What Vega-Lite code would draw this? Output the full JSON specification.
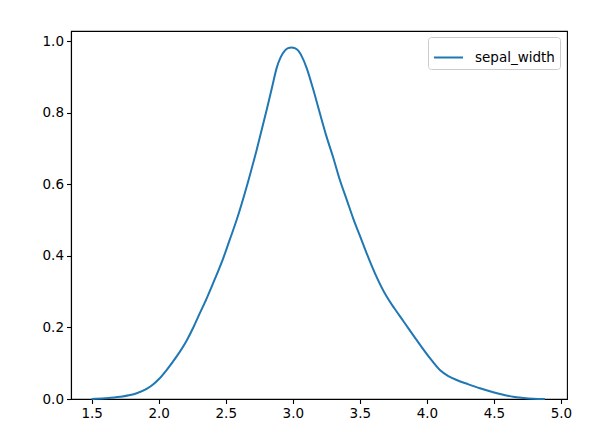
{
  "$schema": "https://vega.github.io/schema/vega-lite/v6.json",
  "width": 496,
  "height": 368,
  "autosize": "none",
  "padding": {"left": 71, "top": 31, "right": 37, "bottom": 42},
  "background": "white",
  "config": {
    "font": "DejaVu Sans",
    "view": {"stroke": "black", "strokeWidth": 1.1},
    "axis": {
      "grid": false,
      "domain": true,
      "domainColor": "black",
      "domainWidth": 1.1,
      "tickColor": "black",
      "tickSize": 4.5,
      "tickWidth": 1.1,
      "labelColor": "black",
      "labelFont": "DejaVu Sans",
      "labelFontSize": 13.5,
      "labelPadding": 3,
      "title": null
    }
  },
  "data": {
    "values": [
      {"x": 1.5, "y": 0.0, "series": "sepal_width"},
      {"x": 1.6, "y": 0.002, "series": "sepal_width"},
      {"x": 1.711, "y": 0.006, "series": "sepal_width"},
      {"x": 1.836, "y": 0.016, "series": "sepal_width"},
      {"x": 1.91, "y": 0.028, "series": "sepal_width"},
      {"x": 1.96, "y": 0.041, "series": "sepal_width"},
      {"x": 2.0, "y": 0.055, "series": "sepal_width"},
      {"x": 2.059, "y": 0.081, "series": "sepal_width"},
      {"x": 2.134, "y": 0.119, "series": "sepal_width"},
      {"x": 2.208, "y": 0.163, "series": "sepal_width"},
      {"x": 2.26, "y": 0.201, "series": "sepal_width"},
      {"x": 2.295, "y": 0.23, "series": "sepal_width"},
      {"x": 2.358, "y": 0.281, "series": "sepal_width"},
      {"x": 2.42, "y": 0.336, "series": "sepal_width"},
      {"x": 2.481, "y": 0.393, "series": "sepal_width"},
      {"x": 2.53, "y": 0.445, "series": "sepal_width"},
      {"x": 2.581, "y": 0.5, "series": "sepal_width"},
      {"x": 2.665, "y": 0.605, "series": "sepal_width"},
      {"x": 2.73, "y": 0.695, "series": "sepal_width"},
      {"x": 2.805, "y": 0.807, "series": "sepal_width"},
      {"x": 2.845, "y": 0.87, "series": "sepal_width"},
      {"x": 2.88, "y": 0.925, "series": "sepal_width"},
      {"x": 2.91, "y": 0.955, "series": "sepal_width"},
      {"x": 2.941, "y": 0.973, "series": "sepal_width"},
      {"x": 2.965, "y": 0.98, "series": "sepal_width"},
      {"x": 2.991, "y": 0.982, "series": "sepal_width"},
      {"x": 3.015, "y": 0.98, "series": "sepal_width"},
      {"x": 3.041, "y": 0.973, "series": "sepal_width"},
      {"x": 3.07, "y": 0.955, "series": "sepal_width"},
      {"x": 3.103, "y": 0.925, "series": "sepal_width"},
      {"x": 3.15, "y": 0.868, "series": "sepal_width"},
      {"x": 3.203, "y": 0.797, "series": "sepal_width"},
      {"x": 3.25, "y": 0.735, "series": "sepal_width"},
      {"x": 3.302, "y": 0.674, "series": "sepal_width"},
      {"x": 3.35, "y": 0.613, "series": "sepal_width"},
      {"x": 3.402, "y": 0.557, "series": "sepal_width"},
      {"x": 3.451, "y": 0.504, "series": "sepal_width"},
      {"x": 3.513, "y": 0.444, "series": "sepal_width"},
      {"x": 3.551, "y": 0.407, "series": "sepal_width"},
      {"x": 3.613, "y": 0.351, "series": "sepal_width"},
      {"x": 3.7, "y": 0.286, "series": "sepal_width"},
      {"x": 3.76, "y": 0.252, "series": "sepal_width"},
      {"x": 3.824, "y": 0.218, "series": "sepal_width"},
      {"x": 3.923, "y": 0.165, "series": "sepal_width"},
      {"x": 4.023, "y": 0.114, "series": "sepal_width"},
      {"x": 4.097, "y": 0.081, "series": "sepal_width"},
      {"x": 4.16, "y": 0.064, "series": "sepal_width"},
      {"x": 4.222, "y": 0.053, "series": "sepal_width"},
      {"x": 4.31, "y": 0.041, "series": "sepal_width"},
      {"x": 4.396, "y": 0.03, "series": "sepal_width"},
      {"x": 4.495, "y": 0.019, "series": "sepal_width"},
      {"x": 4.57, "y": 0.012, "series": "sepal_width"},
      {"x": 4.644, "y": 0.006, "series": "sepal_width"},
      {"x": 4.72, "y": 0.003, "series": "sepal_width"},
      {"x": 4.793, "y": 0.001, "series": "sepal_width"},
      {"x": 4.88, "y": 0.0, "series": "sepal_width"}
    ]
  },
  "mark": {"type": "line", "strokeWidth": 2, "interpolate": "monotone"},
  "encoding": {
    "x": {
      "field": "x",
      "type": "quantitative",
      "scale": {"domain": [1.346, 5.045], "nice": false, "zero": false},
      "axis": {"values": [1.5, 2.0, 2.5, 3.0, 3.5, 4.0, 4.5, 5.0], "format": ".1f"}
    },
    "y": {
      "field": "y",
      "type": "quantitative",
      "scale": {"domain": [0, 1.028], "nice": false},
      "axis": {"values": [0, 0.2, 0.4, 0.6, 0.8, 1.0], "format": ".1f"}
    },
    "color": {
      "field": "series",
      "type": "nominal",
      "scale": {"range": ["#1f77b4"]},
      "legend": {
        "title": null,
        "orient": "none",
        "legendX": 357,
        "legendY": 6,
        "symbolType": "stroke",
        "symbolStrokeWidth": 2,
        "symbolSize": 841,
        "labelFontSize": 13.5,
        "labelColor": "black",
        "labelOffset": 11,
        "fillColor": "white",
        "strokeColor": "#cccccc",
        "cornerRadius": 3,
        "padding": 5
      }
    }
  }
}
